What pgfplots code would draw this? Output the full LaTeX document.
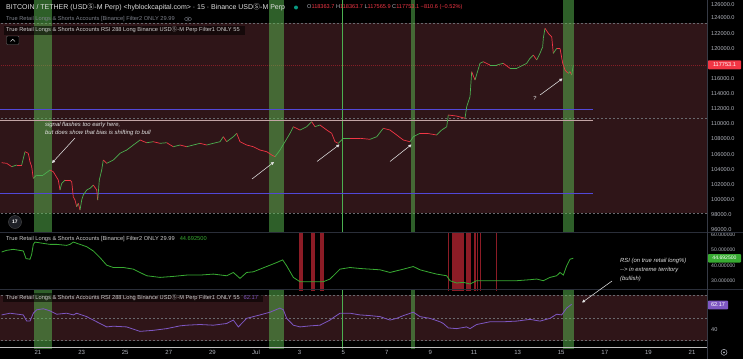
\documentclass[border=0pt]{standalone}
\usepackage{pgfplots}
\pgfplotsset{compat=1.18}
\usepackage{pgfplotstable}
\usepackage{fontspec}
\setmainfont{Liberation Sans}
\newfontfamily\cjk{Noto Sans CJK JP}
\usetikzlibrary{arrows.meta}
\definecolor{bg}{RGB}{0,0,0}
\definecolor{maroon}{RGB}{47,21,24}
\definecolor{tvgreen}{RGB}{76,175,80}
\definecolor{tvred}{RGB}{242,54,69}
\definecolor{band}{RGB}{92,190,82}
\definecolor{lngreen}{RGB}{56,170,50}
\definecolor{rsipurple}{RGB}{126,87,194}
\definecolor{barred}{RGB}{140,28,38}
\definecolor{hline}{RGB}{82,72,215}
\definecolor{pinkline}{RGB}{195,165,165}
\definecolor{dashc}{RGB}{105,105,110}
\definecolor{axtext}{RGB}{178,181,190}
\definecolor{dimtext}{RGB}{125,128,138}
\definecolor{sepc}{RGB}{42,46,57}
\definecolor{scalesep}{RGB}{54,58,69}
\definecolor{teal}{RGB}{8,153,129}
\definecolor{logobg}{RGB}{30,32,38}
\definecolor{anno}{RGB}{225,225,225}
\newcommand{\Ss}{{\cjk Ⓢ}}

% price (day index: 0 = 21 Jun), close approximations of the 15-min candles
\pgfplotstableread{
d p m
-1.665 104871 0
-1.436 104792 0
-1.206 104342 1
-0.977 104567 0
-0.748 104567 1
-0.596 106325 0
-0.445 106114 0
-0.367 105003 0
-0.289 104342 0
-0.216 102809 1
-0.060 103245 1
0.243 103245 1
0.550 103906 0
0.702 103682 0
0.931 102584 0
1.009 101263 1
1.087 102148 1
1.239 102584 0
1.468 102584 0
1.546 102360 0
1.619 100377 0
1.697 99941 0
1.775 99055 1
1.849 99505 0
1.927 98619 1
2.005 99941 1
2.078 100602 1
2.234 101263 1
2.385 101487 1
2.537 101923 0
2.693 101263 0
2.739 99941 1
2.812 102584 1
2.922 103906 1
2.995 105228 0
3.151 104792 1
3.454 105228 1
3.761 106114 1
4.069 106550 1
4.372 107211 1
4.679 107872 0
4.986 107514 1
5.289 107647 0
5.596 107435 1
5.904 107514 0
6.206 106986 1
6.514 107211 0
6.821 106986 1
7.124 107211 1
7.431 107435 0
7.739 107211 1
8.041 107435 1
8.349 107647 1
8.500 108308 0
8.656 107647 1
8.959 108308 1
9.115 108757 0
9.266 107647 0
9.573 107211 0
9.876 106986 0
10.183 106550 0
10.491 106325 0
10.720 105889 0
10.872 105664 1
11.101 106550 1
11.330 107647 1
11.560 108757 1
11.711 109630 0
12.018 109193 1
12.326 109630 1
12.555 110291 0
12.706 109630 1
12.936 109854 0
13.243 109193 0
13.472 108757 0
13.624 107647 0
13.775 107435 1
14.005 108096 1
14.312 108096 0
14.771 108096 0
15.229 107964 1
15.537 108308 1
15.839 109418 0
16.147 109193 0
16.454 108532 0
16.757 107872 0
17.064 107647 1
17.216 108308 1
17.523 108757 0
17.830 108757 0
18.289 108532 1
18.518 109193 1
18.748 109630 1
18.821 111176 0
19.200 111043 0
19.587 110740 1
19.665 112273 1
19.817 113595 1
19.894 116899 0
20.046 115802 1
20.275 118010 1
20.427 118221 0
20.734 117785 1
21.041 117785 1
21.344 118010 0
21.651 117349 1
21.959 117349 1
22.261 117785 1
22.417 118010 1
22.569 118670 1
22.720 119107 0
22.876 118446 1
23.028 119332 1
23.151 120204 1
23.179 121315 1
23.257 122636 0
23.408 121975 0
23.564 121526 0
23.638 119332 1
23.794 119992 0
23.945 119992 0
24.069 118010 0
24.174 117124 0
24.326 116688 1
24.404 116899 0
24.482 116464 1
24.555 117753 0
}\price

\pgfplotstableread{
d v
-1.668 48.71
-1.437 49.78
-1.131 50.43
-0.673 49.35
-0.550 44.41
-0.367 43.98
-0.290 47.20
-0.214 53.66
-0.138 55.16
0.245 54.30
0.550 53.66
0.856 53.66
1.315 53.01
1.468 53.66
1.621 55.16
1.927 53.66
2.233 52.15
2.538 49.35
2.844 45.05
3.150 40.11
3.456 38.60
3.914 38.60
4.373 37.53
4.679 35.37
4.985 33.23
5.596 32.15
6.208 32.80
6.820 33.66
7.431 33.66
8.043 34.30
8.654 33.23
8.960 35.37
9.266 31.50
9.572 35.37
9.878 35.80
10.183 37.53
10.489 39.25
10.948 41.83
11.223 43.55
11.407 39.68
11.713 32.15
12.018 29.35
12.630 29.35
13.089 29.35
13.394 31.08
13.547 33.23
13.853 37.53
14.312 38.60
14.771 37.95
15.229 37.53
15.688 37.10
16.147 35.37
16.453 36.45
16.759 37.53
17.217 39.25
17.523 37.10
17.982 35.37
18.288 34.30
18.746 33.23
18.899 30.00
19.205 28.50
19.511 28.92
19.817 27.85
20.122 30.00
20.734 30.00
21.346 30.00
21.957 30.00
22.569 30.65
22.875 31.08
23.180 30.00
23.486 32.15
23.792 33.23
23.945 35.37
24.098 33.66
24.251 39.68
24.404 43.98
24.557 44.69
}\longs

\pgfplotstableread{
d r
-1.668 52.73
-1.284 54.24
-0.673 52.73
-0.520 47.27
-0.367 47.27
-0.214 54.24
-0.061 57.27
0.245 58.18
0.550 56.36
0.856 53.33
1.315 54.24
1.621 52.73
1.774 54.24
2.233 51.21
2.691 46.67
3.150 42.12
3.456 42.73
4.067 42.12
4.679 38.18
5.290 39.09
5.902 40.61
6.514 43.03
6.820 43.64
7.431 44.24
8.043 43.64
8.654 45.15
8.960 48.18
9.190 42.12
9.419 46.67
9.572 49.70
10.183 52.73
10.642 55.15
11.101 58.79
11.254 57.27
11.407 49.70
11.713 43.64
12.018 42.12
12.477 43.03
12.936 43.64
13.394 48.18
13.547 50.30
13.853 54.24
14.312 54.24
14.771 52.73
15.229 52.12
15.688 51.21
16.147 48.18
16.453 49.70
16.759 52.12
17.217 55.15
17.523 51.21
17.982 49.70
18.440 46.67
18.593 45.15
18.823 41.21
19.205 40.61
19.664 42.12
19.817 40.61
20.122 44.24
20.734 46.67
21.346 46.67
21.957 47.27
22.569 48.79
23.028 47.27
23.486 49.70
23.792 53.33
24.021 52.73
24.251 58.79
24.480 62.17
}\rsi

\pgfplotsset{pane/.style={
  scale only axis, width=707pt, xmin=-1.7431, xmax=30.6881,
  axis line style={draw=none}, tick style={draw=none},
  xtick=\empty, yticklabel pos=right, clip=true,
  /pgf/number format/assume math mode=true,
  yticklabel style={font=\fontsize{5.6}{6}\selectfont, text=axtext, anchor=west, inner sep=0pt, xshift=4pt},
  xticklabel style={font=\fontsize{6}{7}\selectfont, text=axtext, inner sep=0pt},
}}

\begin{document}
\begin{tikzpicture}
\path[use as bounding box] (0,0) rectangle (743pt,-359pt);
\clip (0,0) rectangle (743pt,-359pt);
\fill[bg] (0,0) rectangle (743pt,-359pt);

% ---------- main price pane ----------
\begin{axis}[pane, at={(0pt,0pt)}, anchor=north west, height=232pt,
  ymin=95712, ymax=126379,
  ytick={96000,98000,100000,102000,104000,106000,108000,110000,112000,114000,116000,120000,122000,124000},
  yticklabels={96000.0,98000.0,100000.0,102000.0,104000.0,106000.0,108000.0,110000.0,112000.0,114000.0,116000.0,120000.0,122000.0,124000.0}]
\addplot[fill=maroon, draw=none] coordinates {(-5,98222) (-5,123339) (35,123339) (35,98222)} --cycle;
\addplot[dashc, dash pattern=on 2pt off 2pt, line width=0.4pt] coordinates {(-5,123339) (35,123339)};
\addplot[dashc, dash pattern=on 2pt off 2pt, line width=0.4pt] coordinates {(-5,98222) (35,98222)};
\addplot[dashc, dash pattern=on 2pt off 2pt, line width=0.4pt] coordinates {(-5,110781) (35,110781)};
\addplot[tvred!55!black, dash pattern=on 1pt off 1pt, line width=0.4pt] coordinates {(-5,117753) (35,117753)};
\addplot[fill=band, draw=none, fill opacity=0.5] coordinates {(-0.183,90000) (-0.183,130000) (0.628,130000) (0.628,90000)} --cycle;
\addplot[fill=band, draw=none, fill opacity=0.5] coordinates {(10.61,90000) (10.61,130000) (11.28,130000) (11.28,90000)} --cycle;
\addplot[fill=band, draw=none, fill opacity=0.5] coordinates {(17.11,90000) (17.11,130000) (17.29,130000) (17.29,90000)} --cycle;
\addplot[fill=band, draw=none, fill opacity=0.5] coordinates {(24.10,90000) (24.10,130000) (24.57,130000) (24.57,90000)} --cycle;
\addplot[tvgreen, line width=0.6pt] coordinates {(13.96,90000) (13.96,130000)};
\addplot[hline, line width=0.9pt] coordinates {(-5,111905) (25.46,111905)};
\addplot[hline, line width=0.9pt] coordinates {(-5,100801) (25.46,100801)};
\addplot[pinkline, line width=0.6pt] coordinates {(-5,110450) (25.46,110450)};
\addplot[mesh, shader=flat corner, point meta=explicit, point meta min=0, point meta max=1,
  colormap={rg}{color=(tvred) color=(tvgreen)}, line width=0.7pt] table[x=d, y=p, meta=m] {\price};
\end{axis}

% ---------- retail longs pane ----------
\begin{axis}[pane, at={(0pt,-233pt)}, anchor=north west, height=57pt,
  ymin=23.94, ymax=61.07,
  ytick={30,40,50,60}, yticklabels={30.000000,40.000000,50.000000,60.000000},
  yticklabel style={font=\fontsize{5.1}{6}\selectfont}]
\addplot[fill=barred, draw=none] coordinates {(11.972,0) (11.972,100) (12.156,100) (12.156,0)} --cycle;
\addplot[fill=barred, draw=none] coordinates {(12.523,0) (12.523,100) (12.706,100) (12.706,0)} --cycle;
\addplot[fill=barred, draw=none] coordinates {(12.936,0) (12.936,100) (13.120,100) (13.120,0)} --cycle;
\addplot[fill=barred, draw=none] coordinates {(19.005,0) (19.005,100) (19.555,100) (19.555,0)} --cycle;
\addplot[fill=barred, draw=none] coordinates {(19.633,0) (19.633,100) (19.849,100) (19.849,0)} --cycle;
\addplot[barred, line width=0.7pt, unbounded coords=jump] coordinates {(18.82,0) (18.82,100) (18.9,nan) (20.0,0) (20.0,100) (20.03,nan) (20.06,0) (20.06,100) (20.1,nan) (20.15,0) (20.15,100) (20.2,nan) (20.275,0) (20.275,100) (20.3,nan) (21.04,0) (21.04,100)};
\addplot[lngreen, line width=0.8pt] table[x=d, y=v] {\longs};
\end{axis}

% ---------- RSI pane ----------
\begin{axis}[pane, at={(0pt,-290pt)}, anchor=north west, height=58pt,
  ymin=23.45, ymax=74.78,
  ytick={40}, yticklabels={40},
  xtick={0,2,4,6,8,10,12,14,16,18,20,22,24,26,28,30},
  xticklabels={21,23,25,27,29,Jul,3,5,7,9,11,13,15,17,19,21},
  xticklabel style={yshift=-2pt}]
\addplot[fill=maroon, draw=none] coordinates {(-5,30) (-5,70) (35,70) (35,30)} --cycle;
\addplot[dashc, dash pattern=on 2pt off 2pt, line width=0.4pt] coordinates {(-5,70) (35,70)};
\addplot[dashc, dash pattern=on 2pt off 2pt, line width=0.4pt] coordinates {(-5,50) (35,50)};
\addplot[dashc, dash pattern=on 2pt off 2pt, line width=0.4pt] coordinates {(-5,30) (35,30)};
\addplot[fill=band, draw=none, fill opacity=0.5] coordinates {(-0.183,0) (-0.183,100) (0.628,100) (0.628,0)} --cycle;
\addplot[fill=band, draw=none, fill opacity=0.5] coordinates {(10.61,0) (10.61,100) (11.28,100) (11.28,0)} --cycle;
\addplot[fill=band, draw=none, fill opacity=0.5] coordinates {(17.11,0) (17.11,100) (17.29,100) (17.29,0)} --cycle;
\addplot[fill=band, draw=none, fill opacity=0.5] coordinates {(24.10,0) (24.10,100) (24.57,100) (24.57,0)} --cycle;
\addplot[tvgreen, line width=0.6pt] coordinates {(13.96,0) (13.96,100)};
\addplot[rsipurple, line width=0.8pt] table[x=d, y=r] {\rsi};
\end{axis}

% ---------- chrome, labels and notes ----------
\begin{scope}[x=1pt, y=-1pt]
\draw[sepc, line width=0.8pt] (0,232.5) -- (743,232.5);
\draw[sepc, line width=0.8pt] (0,289.5) -- (743,289.5);
\draw[scalesep, line width=0.6pt] (707,0) -- (707,359);
\draw[black!25, line width=0.6pt] (0,347.5) -- (707,347.5);

% top price-scale label (kept clear of the edge)
\node[anchor=west, inner sep=0pt, text=axtext, font=\fontsize{5.6}{6}\selectfont] at (711,4.8) {126000.0};

% header
\node[anchor=west, inner sep=0pt, text=white!88!black, font=\fontsize{7}{8}\selectfont] at (6,7.5)
  {BITCOIN / TETHER (USD\Ss-M Perp) <hyblockcapital.com> · 15 · Binance USD\Ss-M Perp};
\fill[teal] (296,7.5) circle (2pt);
\node[anchor=west, inner sep=0pt, font=\fontsize{5.6}{7}\selectfont] at (307,7.5)
  {\color{axtext}O\color{tvred}118363.7 \color{axtext}H\color{tvred}118363.7 \color{axtext}L\color{tvred}117565.9 \color{axtext}C\color{tvred}117753.1 −810.6 (−0.52\%)};
\node[anchor=west, inner sep=0pt, text=dimtext, font=\fontsize{5.7}{6}\selectfont] at (6,19)
  {True Retail Longs \& Shorts Accounts [Binance] Filter2 ONLY 29.99};
\draw[dimtext, line width=0.4pt] (188,19) ellipse (3.5pt and 2pt);
\fill[dimtext] (188,19) circle (1pt);
\fill[black, fill opacity=0.55] (3.5,25.5) rectangle (245,34.5);
\node[anchor=west, inner sep=0pt, text=white!80!black, font=\fontsize{5.7}{6}\selectfont] at (6,30)
  {True Retail Longs \& Shorts Accounts RSI 288 Long Binance USD\Ss-M Perp Filter1 ONLY 55};
\filldraw[fill=black, draw=black!60!white, line width=0.4pt, rounded corners=1pt] (6.5,36) rectangle (19,44.5);
\draw[white!80!black, line width=0.5pt] (10.5,41.5) -- (12.75,39.2) -- (15,41.5);

% TradingView logo
\filldraw[fill=logobg, draw=black!70!white, line width=0.4pt] (15,222) circle (6.5pt);
\node[text=white, font=\fontsize{5}{5}\selectfont\bfseries, inner sep=0pt] at (15,222) {17};

% pane legends
\node[anchor=west, inner sep=0pt, text=white!80!black, font=\fontsize{5.7}{6}\selectfont] at (6,239.5)
  {True Retail Longs \& Shorts Accounts [Binance] Filter2 ONLY 29.99\hspace{5pt}\color{lngreen}44.692500};
\fill[black, fill opacity=0.55] (3,292.7) rectangle (263,302);
\node[anchor=west, inner sep=0pt, text=white!80!black, font=\fontsize{5.7}{6}\selectfont] at (6,297.3)
  {True Retail Longs \& Shorts Accounts RSI 288 Long Binance USD\Ss-M Perp Filter1 ONLY 55\hspace{4pt}\color{rsipurple}62.17};

% price scale boxes
\fill[tvred, rounded corners=0.8pt] (708,60.3) rectangle (741,69.3);
\node[text=white, font=\fontsize{5.6}{6}\selectfont, inner sep=0pt] at (724.5,64.8) {117753.1};
\fill[lngreen, rounded corners=0.8pt] (708,254) rectangle (741,262.5);
\node[text=white, font=\fontsize{5.1}{6}\selectfont, inner sep=0pt] at (724.5,258.2) {44.692500};
\fill[rsipurple, rounded corners=0.8pt] (708,300.6) rectangle (728,309.4);
\node[text=white, font=\fontsize{5.6}{6}\selectfont, inner sep=0pt] at (718,305) {62.17};
\draw[axtext, line width=0.5pt] (724,352.3) circle (3pt);
\fill[axtext] (724,352.3) circle (1pt);

% annotations
\begin{scope}[anno, line width=0.55pt, -{Triangle[length=3pt,width=3pt]}]
\draw (75,138) -- (52,163);
\draw (252,179) -- (274,162);
\draw (317,161.5) -- (339.5,144.5);
\draw (390,161.5) -- (411.5,144.5);
\draw (540,95) -- (562.5,78.5);
\draw (612,281) -- (582,302.5);
\end{scope}
\begin{scope}[every node/.style={anchor=west, inner sep=0pt, text=anno, font=\fontsize{5.9}{7}\selectfont\itshape}]
\node at (45,124.5) {signal flashes too early here,};
\node at (45,133.3) {but does show that bias is shifting to bull};
\node at (533,98.5) {?};
\node at (620,261) {RSI (on true retail long\%)};
\node at (620,270) {-\kern0pt-\kern0pt> in extreme territory};
\node at (620,279) {(bullish)};
\end{scope}
\end{scope}
\end{tikzpicture}
\end{document}
